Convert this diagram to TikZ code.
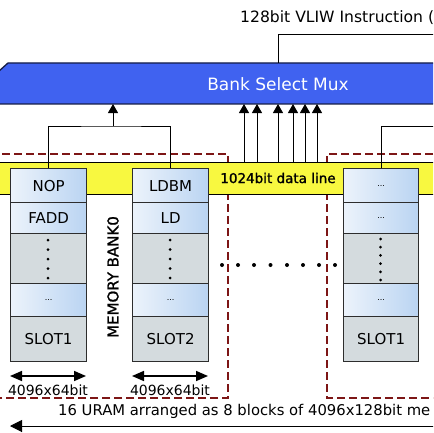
\documentclass[tikz,border=0pt]{standalone}
\usepackage{fontspec}
\setmainfont{DejaVu Sans}
\newfontfamily\heavyfont[FakeBold=1.2]{DejaVu Sans}
\usetikzlibrary{arrows.meta,calc}
\definecolor{muxblue}{RGB}{64,98,240}
\definecolor{muxedge}{RGB}{20,28,70}
\definecolor{dashred}{RGB}{125,22,22}
\definecolor{datayellow}{RGB}{248,248,64}
\definecolor{cellblue}{RGB}{186,212,242}
\definecolor{celllight}{RGB}{236,243,251}
\definecolor{cellgray}{RGB}{212,219,222}
\definecolor{celledge}{RGB}{45,45,45}
\tikzset{
  cellb/.style={draw=celledge, line width=1.2pt, left color=celllight, right color=cellblue,
    minimum width=76pt, inner sep=0pt, anchor=north west, font=\fontsize{15}{15}\selectfont},
  cellg/.style={draw=celledge, line width=1.2pt, fill=cellgray,
    minimum width=76pt, inner sep=0pt, anchor=north west, font=\fontsize{15}{15}\selectfont},
  dashreg/.style={draw=dashred, line width=2pt, dash pattern=on 8pt off 4pt},
  upar/.style={draw=black, line width=1pt, -{Triangle[width=10pt,length=9pt]}},
  wire/.style={draw=black, line width=1pt},
  vdot/.style={circle, fill=black, inner sep=0pt, minimum size=3pt},
  hdot/.style={circle, fill=black, inner sep=0pt, minimum size=4pt},
  widthar/.style={draw=black, line width=1.6pt, {Triangle[width=10pt,length=12pt]}-{Triangle[width=10pt,length=12pt]}},
  lbl/.style={inner sep=0pt}
}
\begin{document}
\begin{tikzpicture}[x=1pt,y=-1pt]
\useasboundingbox (0,0) rectangle (433,433);
\clip (0,0) rectangle (433,433);
\fill[white] (0,0) rectangle (433,433);

% dashed memory bank regions
\draw[dashreg] (-10,154) -- (228,154) -- (228,398) -- (-10,398);
\draw[dashreg] (445,154) -- (327,154) -- (327,398) -- (445,398);

% title
\node[lbl, anchor=west, font=\fontsize{15.6}{15.6}\selectfont] (title) at (240,18) {128bit VLIW Instruction (};
\coordinate (tline) at (445,35);

% mux
\path[draw=muxedge, line width=1.3pt, fill=muxblue] (-2,72) -- (8,63) -- (445,63) -- (445,104) -- (-2,104) -- cycle;
\node[lbl, text=white, font=\fontsize{17}{17}\selectfont] (mux) at (278,84.5) {Bank Select Mux};
\coordinate (muxbot) at (278,104);
\coordinate (muxtop) at (278,63);
\draw[wire] (tline) -| (muxtop);

% data line
\node[draw=black, line width=1pt, fill=datayellow, minimum width=460pt, minimum height=32pt, inner sep=0pt, anchor=north west] (data) at (-10,162) {};
\node[lbl, font=\heavyfont\fontsize{13.5}{13.5}\selectfont] (datalbl) at (278,178) {1024bit data line};

% columns
\foreach \c/\x/\w in {1/10/76, 2/132/76, 3/343/75}{
  \node[cellb, minimum width=\w pt, minimum height=34pt] (c\c a) at (\x,168) {};
  \node[cellb, minimum width=\w pt, minimum height=31pt] (c\c b) at (\x,202) {};
  \node[cellg, minimum width=\w pt, minimum height=50pt] (c\c c) at (\x,233) {};
  \node[cellb, minimum width=\w pt, minimum height=33pt] (c\c d) at (\x,283) {};
  \node[cellg, minimum width=\w pt, minimum height=45pt] (c\c e) at (\x,316) {};
}
\node[lbl, font=\fontsize{15}{15}\selectfont] at (c1a) {NOP};
\node[lbl, font=\fontsize{15}{15}\selectfont] at (c1b) {FADD};
\node[lbl, font=\fontsize{15}{15}\selectfont] at (c1e) {SLOT1};
\node[lbl, font=\fontsize{15}{15}\selectfont] at (c2a) {LDBM};
\node[lbl, font=\fontsize{15}{15}\selectfont] at (c2b) {LD};
\node[lbl, font=\fontsize{15}{15}\selectfont] at (c2e) {SLOT2};
\node[lbl, font=\fontsize{15}{15}\selectfont] at (c3e) {SLOT1};
\node[lbl, font=\fontsize{8}{8}\selectfont] at (c1d) {...};
\node[lbl, font=\fontsize{8}{8}\selectfont] at (c2d) {...};
\node[lbl, font=\fontsize{8}{8}\selectfont] at (c3a) {...};
\node[lbl, font=\fontsize{8}{8}\selectfont] at (c3b) {...};
\node[lbl, font=\fontsize{8}{8}\selectfont] at (c3d) {...};

% vertical dots
\foreach \y in {240,249.5,259,268.5,278}{
  \node[vdot] at (48,\y) {};
  \node[vdot] at (170,\y) {};
}
\foreach \y in {239,247.2,255.4,263.6,271.8,280}{
  \node[vdot] at (380.5,\y) {};
}
% horizontal dots
\foreach \x in {222,238,254,270.5,287,303,319,335}{
  \node[hdot] at (\x,265) {};
}

% memory bank label
\node[lbl, rotate=90, font=\heavyfont\fontsize{15}{15}\selectfont] (bank) at (113,277) {MEMORY BANK0};

% connectors from bank 0 slots to mux
\coordinate (j1) at (113,126);
\draw[wire] (c1a.north) |- (j1) -| (c2a.north);
\draw[upar] (j1) -- (j1 |- muxbot);
% connectors from data line to mux
\foreach \x in {244,257,278,293,305,317}{
  \coordinate (d\x) at (\x,162);
  \draw[upar] (d\x) -- (d\x |- muxbot);
}
% right bank connector
\coordinate (r1) at (445,126);
\draw[wire] (c3a.north) |- (r1);

% width arrows
\coordinate (w1l) at (10,376); \coordinate (w1r) at (86,376);
\coordinate (w2l) at (132,376); \coordinate (w2r) at (208,376);
\draw[widthar] (w1l) -- (w1r);
\draw[widthar] (w2l) -- (w2r);
\node[lbl, font=\fontsize{14}{14}\selectfont] (wl1) at (48,390) {4096x64bit};
\node[lbl, font=\fontsize{14}{14}\selectfont] (wl2) at (170,390) {4096x64bit};

% bottom label and arrow
\node[lbl, anchor=west, font=\fontsize{14.8}{14.8}\selectfont] (uram) at (58,411) {16 URAM arranged as 8 blocks of 4096x128bit me};
\coordinate (bl) at (10,426); \coordinate (br) at (445,426);
\draw[draw=black, line width=1pt, -{Triangle[width=12pt,length=12pt]}] (br) -- (bl);
\end{tikzpicture}
\end{document}
